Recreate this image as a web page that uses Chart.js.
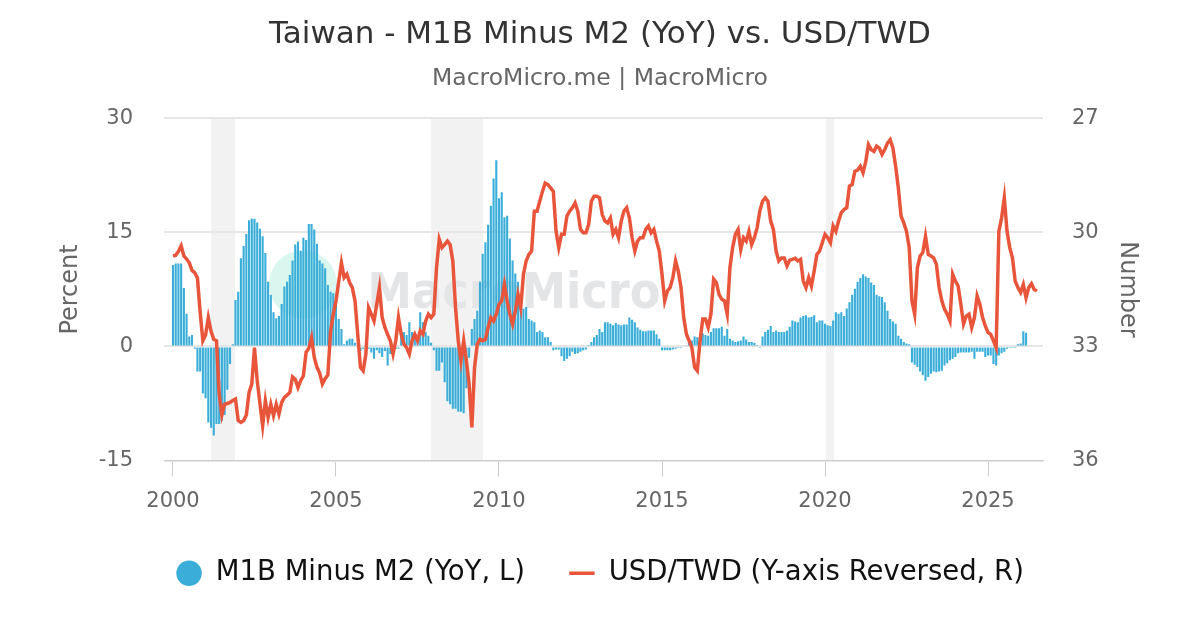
<!DOCTYPE html>
<html>
<head>
<meta charset="utf-8">
<script src="https://cdn.jsdelivr.net/npm/chart.js@4.4.1/dist/chart.umd.min.js"></script>
<style>
  html, body { margin: 0; padding: 0; background: #fff; }
</style>
</head>
<body>
<canvas id="chart" width="1200" height="630"></canvas>
<script>
// monthly data, first value = Jan 2000
const startYear = 2000;

// M1B minus M2, YoY %, left axis
const m1bMinusM2 = [
  10.7, 10.9, 10.9, 10.9, 7.7, 4.3, 1.3, 1.5, -0.3, -3.3, -3.3, -6.2,
  -6.8, -10.0, -10.7, -11.7, -10.2, -10.2, -9.8, -9.0, -5.7, -2.3, 0.3, 6.1,
  7.2, 11.6, 13.2, 14.8, 16.6, 16.8, 16.8, 16.3, 15.5, 14.5, 12.3, 8.5,
  6.8, 4.5, 3.7, 4.0, 5.6, 7.9, 8.5, 9.4, 11.3, 13.4, 13.8, 12.6,
  14.3, 14.0, 16.1, 16.1, 15.4, 13.5, 11.3, 10.9, 10.3, 8.1, 7.2, 7.0,
  6.0, 3.6, 2.3, 0.3, 0.8, 1.0, 1.0, 0.5, 0.2, -0.6, -0.3, -0.5,
  -0.3, -0.8, -1.6, -0.5, -0.9, -1.4, -0.6, -2.5, -1.0, -0.5, -0.3, -0.3,
  1.9, 1.9, 1.5, 3.2, 1.9, 1.0, 1.0, 4.5, 3.2, 1.9, 1.4, 0.5,
  -0.5, -3.2, -3.2, -2.1, -4.7, -7.2, -7.6, -8.2, -8.2, -8.6, -8.6, -8.8,
  -5.5, -1.5, 2.3, 3.6, 4.7, 8.5, 12.2, 13.7, 16.0, 18.5, 22.1, 24.5,
  19.5, 20.3, 17.0, 17.2, 14.2, 11.3, 9.6, 8.5, 6.3, 5.0, 5.2, 3.6,
  3.4, 3.2, 1.9, 2.1, 1.9, 1.2, 1.2, 0.6, -0.5, -0.4, -0.4, -1.3,
  -1.9, -1.6, -1.3, -0.7, -1.0, -0.9, -0.7, -0.5, -0.4, 0.2, 0.6, 1.2,
  1.5, 2.3, 1.9, 3.2, 3.2, 3.0, 2.8, 3.1, 2.9, 2.8, 2.9, 2.9,
  3.8, 3.5, 3.2, 2.5, 2.2, 2.0, 2.0, 2.1, 2.1, 2.1, 1.6, 1.0,
  -0.5, -0.5, -0.5, -0.5, -0.4, -0.3, -0.2, -0.2, 0.0, 0.1, 0.6, 0.8,
  1.3, 1.2, 1.1, 1.7, 1.5, 1.4, 1.9, 2.4, 2.4, 2.4, 2.6, 1.4,
  2.3, 1.0, 0.8, 0.6, 0.7, 0.8, 1.3, 0.9, 0.6, 0.6, 0.5, 0.2,
  -0.2, 1.3, 1.9, 2.2, 2.7, 1.9, 2.1, 1.9, 1.9, 1.9, 2.1, 2.6,
  3.4, 3.3, 3.2, 3.8, 4.0, 4.1, 3.8, 3.9, 4.1, 3.2, 3.4, 3.4,
  3.0, 2.8, 2.7, 3.4, 4.5, 4.3, 4.5, 4.0, 5.0, 5.8, 6.8, 7.6,
  8.5, 9.0, 9.5, 9.2, 9.0, 8.4, 8.1, 6.8, 6.6, 6.5, 5.8, 4.7,
  3.6, 3.3, 3.0, 1.4, 1.0, 0.6, 0.4, 0.3, -2.1, -2.4, -2.7, -3.3,
  -3.8, -4.5, -4.0, -3.6, -3.3, -3.4, -3.3, -3.2, -2.5, -2.2, -1.8, -1.6,
  -1.4, -0.9, -0.8, -0.8, -0.8, -0.8, -0.7, -1.6, -0.7, -0.7, -0.7, -1.4,
  -1.2, -1.2, -2.3, -2.5, -1.2, -0.9, -0.7, -0.3, -0.2, -0.2, -0.2, 0.3,
  0.4, 2.0, 1.8
];

// USD/TWD, right axis (reversed)
const usdTwd = [
  30.62, 30.60, 30.50, 30.35, 30.62, 30.70, 30.80, 31.00, 31.06, 31.20, 32.10, 32.85,
  32.70, 32.24, 32.60, 32.81, 32.85, 34.25, 34.80, 34.52, 34.50, 34.47, 34.42, 34.38,
  34.95, 35.00, 34.95, 34.80, 34.21, 33.99, 33.03, 33.90, 34.50, 35.08, 34.43, 34.87,
  34.52, 34.82, 34.52, 34.78, 34.47, 34.34, 34.28, 34.21, 33.80, 33.86, 34.08, 33.90,
  33.77, 33.15, 33.05, 32.77, 33.29, 33.55, 33.70, 33.99, 33.85, 33.75, 32.60, 32.15,
  31.80, 31.30, 30.80, 31.19, 31.10, 31.32, 31.45, 31.80, 32.68, 33.55, 33.64, 33.20,
  31.98, 32.15, 32.33, 31.89, 31.45, 32.24, 32.50, 32.68, 32.85, 33.20, 32.85, 32.24,
  32.68, 32.94, 33.03, 33.20, 32.85, 32.68, 32.85, 32.59, 32.68, 32.33, 32.15, 32.24,
  32.15, 30.93, 30.18, 30.40, 30.32, 30.23, 30.32, 30.75, 31.98, 32.85, 33.38, 32.85,
  33.38, 33.99, 35.13, 33.55, 32.94, 32.81, 32.85, 32.81, 32.50, 32.24, 32.33, 32.15,
  31.89, 31.80, 31.37, 31.80, 32.15, 32.41, 32.07, 31.63, 31.98, 31.10, 30.75, 30.58,
  30.49, 29.44, 29.44, 29.18, 28.92, 28.70, 28.74, 28.83, 28.92, 29.97, 30.40, 30.05,
  30.05, 29.57, 29.44, 29.35, 29.22, 29.44, 29.92, 30.01, 30.01, 29.79, 29.18, 29.05,
  29.05, 29.09, 29.53, 29.70, 29.75, 29.62, 30.05, 29.92, 30.14, 29.70, 29.44, 29.35,
  29.62, 30.14, 30.49, 30.23, 30.14, 30.14, 29.92, 29.83, 30.01, 29.92, 30.23, 30.49,
  31.10, 31.80, 31.54, 31.45, 31.19, 30.75, 31.02, 31.45, 32.24, 32.68, 32.85, 33.03,
  33.55, 33.64, 32.85, 32.28, 32.28, 32.50, 32.15, 31.23, 31.32, 31.63, 31.76, 31.80,
  32.15, 30.93, 30.40, 30.05, 29.92, 30.45, 30.14, 30.23, 29.97, 30.32, 30.14, 29.88,
  29.44, 29.18, 29.09, 29.18, 29.70, 29.92, 30.49, 30.75, 30.67, 30.67, 30.88, 30.73,
  30.71, 30.68, 30.75, 30.71, 31.28, 31.45, 31.19, 31.41, 31.02, 30.58, 30.49, 30.27,
  30.05, 30.14, 30.27, 29.83, 29.97, 29.70, 29.48, 29.40, 29.35, 28.78, 28.74, 28.39,
  28.36, 28.26, 28.43, 28.13, 27.69, 27.82, 27.87, 27.73, 27.78, 27.95, 27.82, 27.65,
  27.56, 27.78, 28.26, 28.83, 29.57, 29.75, 29.97, 30.40, 31.80, 32.15, 30.93, 30.62,
  30.53, 30.10, 30.58, 30.62, 30.67, 30.84, 31.45, 31.80, 32.02, 32.15, 32.33, 31.10,
  31.28, 31.41, 31.89, 32.41, 32.20, 32.15, 32.50, 32.24, 31.67, 31.89, 32.24, 32.46,
  32.63, 32.68, 32.85, 33.03, 29.97, 29.62, 29.09, 29.97, 30.40, 30.67, 31.28, 31.45,
  31.58, 31.37, 31.72, 31.45, 31.35, 31.50, 31.54
];

const yearTicks = [2000, 2005, 2010, 2015, 2020, 2025];
const leftTicks = [-15, 0, 15, 30];
const rightTicks = [27, 30, 33, 36];

// shaded recession periods [start, end] in decimal years
const recessions = [
  [2001.17, 2001.90],
  [2007.91, 2009.51],
  [2020.03, 2020.28]
];

const toPoints = arr => arr.map((v, i) => ({ x: startYear + i / 12, y: v }));

Chart.defaults.font.family = "'DejaVu Sans', sans-serif";

// recession bands + MacroMicro watermark under the data
const backdrop = {
  id: 'backdrop',
  beforeDraw(chart) {
    const { ctx, chartArea: a, scales: { x } } = chart;
    ctx.save();
    ctx.fillStyle = '#f2f2f2';
    recessions.forEach(([s, e]) => {
      const x0 = x.getPixelForValue(s);
      const x1 = x.getPixelForValue(e);
      ctx.fillRect(x0, a.top, x1 - x0, a.bottom - a.top);
    });

    // watermark
    ctx.fillStyle = '#d9f6ef';
    ctx.beginPath();
    ctx.arc(a.left + 139, a.top + 166, 34, 0, Math.PI * 2);
    ctx.fill();
    ctx.font = "bold 50px 'DejaVu Sans'";
    ctx.fillStyle = '#e4e5e7';
    ctx.textAlign = 'center';
    ctx.textBaseline = 'alphabetic';
    const txt = 'MacroMicro';
    const w = ctx.measureText(txt).width;
    ctx.translate(a.left + 350, a.top + 190);
    ctx.scale(293 / w, 1);
    ctx.fillText(txt, 0, 0);
    ctx.restore();
  }
};

new Chart(document.getElementById('chart'), {
  type: 'bar',
  data: {
    datasets: [
      {
        type: 'bar',
        label: 'M1B Minus M2 (YoY, L)',
        data: toPoints(m1bMinusM2),
        backgroundColor: '#3aaed8',
        borderWidth: 0,
        yAxisID: 'y',
        pointStyle: 'circle',
        barPercentage: 0.78,
        categoryPercentage: 1,
        order: 2
      },
      {
        type: 'line',
        label: 'USD/TWD (Y-axis Reversed, R)',
        data: toPoints(usdTwd),
        borderColor: '#e8553b',
        backgroundColor: '#e8553b',
        borderWidth: 3.5,
        pointRadius: 0,
        tension: 0,
        yAxisID: 'y1',
        pointStyle: 'line',
        order: 1
      }
    ]
  },
  options: {
    responsive: false,
    animation: false,
    devicePixelRatio: 1,
    layout: { padding: { left: 0, right: 0, top: 0, bottom: 33 } },
    plugins: {
      title: {
        display: true,
        text: 'Taiwan - M1B Minus M2 (YoY) vs. USD/TWD',
        color: '#333',
        font: { size: 31, weight: 'normal' },
        padding: { top: 16, bottom: 12 }
      },
      subtitle: {
        display: true,
        text: 'MacroMicro.me | MacroMicro',
        color: '#666',
        font: { size: 23.5 },
        padding: { top: 0, bottom: 25 }
      },
      legend: {
        position: 'bottom',
        labels: {
          usePointStyle: true,
          boxWidth: 26,
          boxHeight: 18,
          padding: 44,
          color: '#111',
          font: { size: 27.5 },
          sort: (a, b) => a.datasetIndex - b.datasetIndex
        }
      },
      tooltip: { enabled: false }
    },
    scales: {
      x: {
        type: 'linear',
        min: 1999.724,
        max: 2026.687,
        offset: false,
        afterBuildTicks: axis => { axis.ticks = yearTicks.map(v => ({ value: v })); },
        afterFit: s => { s.height = 55; },
        ticks: {
          callback: v => String(v),
          color: '#666',
          font: { size: 21 },
          padding: 12,
          maxRotation: 0,
          autoSkip: false
        },
        grid: { offset: false, drawOnChartArea: false, drawTicks: true, tickLength: 16, color: '#ccc' },
        border: { color: '#ccc', width: 1 }
      },
      y: {
        position: 'left',
        min: -15,
        max: 30,
        afterBuildTicks: axis => { axis.ticks = leftTicks.map(v => ({ value: v })); },
        afterFit: s => { s.width = 164; },
        ticks: { color: '#666', font: { size: 21 }, padding: 31 },
        grid: { color: '#e6e6e6', lineWidth: 2, drawTicks: false },
        border: { display: false },
        title: {
          display: true,
          text: 'Percent',
          color: '#666',
          font: { size: 24 },
          padding: { top: 56, bottom: 0 }
        }
      },
      y1: {
        position: 'right',
        reverse: true,
        min: 27,
        max: 36,
        afterBuildTicks: axis => { axis.ticks = rightTicks.map(v => ({ value: v })); },
        afterFit: s => { s.width = 157; },
        ticks: { color: '#666', font: { size: 21 }, padding: 29 },
        grid: { display: false, drawTicks: false },
        border: { display: false },
        title: {
          display: true,
          text: 'Number',
          color: '#666',
          font: { size: 24 },
          padding: { top: 58, bottom: 0 }
        }
      }
    }
  },
  plugins: [backdrop]
});
</script>
</body>
</html>
